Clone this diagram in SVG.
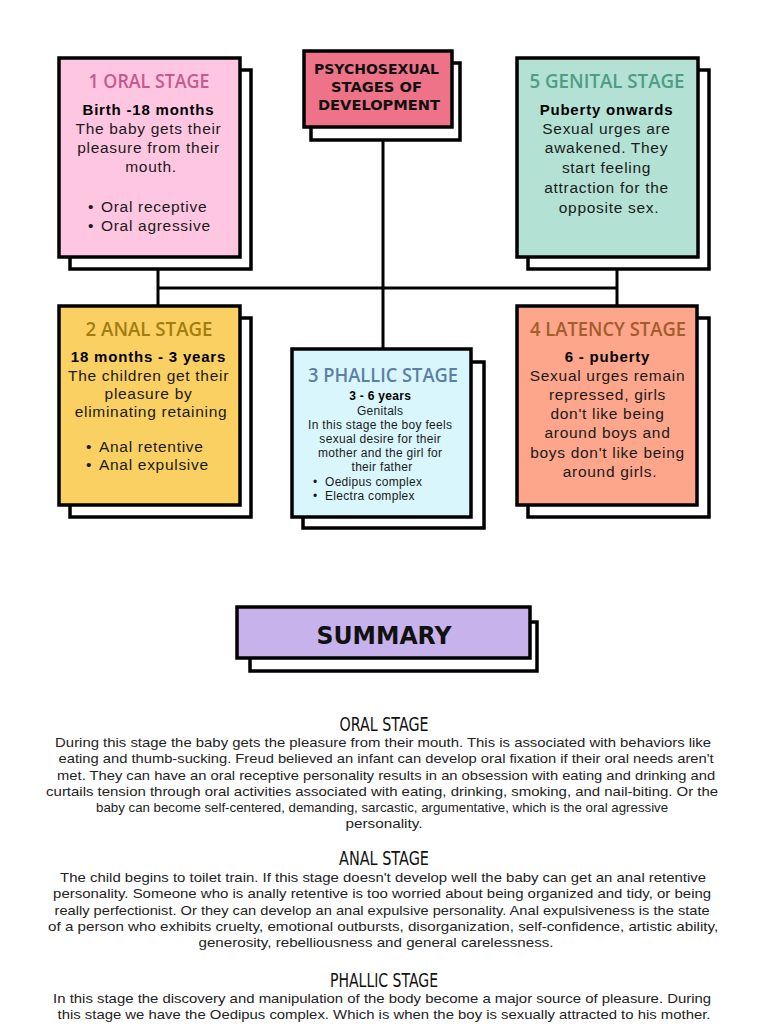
<svg xmlns="http://www.w3.org/2000/svg" width="768" height="1024" viewBox="0 0 768 1024">
<style>
.sh{fill:#fff;stroke:#000;stroke-width:3.5}
.fr{stroke:#000;stroke-width:3.5}
.ttl{font-family:"Open Sans","DejaVu Sans",sans-serif;font-weight:600;text-anchor:middle;font-size:20px}
.b{font-family:"Liberation Sans",Arial,sans-serif;font-size:15.5px;letter-spacing:0.7px;fill:#1a1a1a;text-anchor:middle}
.bb{font-weight:bold;font-size:15px;letter-spacing:0.8px;fill:#000}
.s{font-family:"Liberation Sans",Arial,sans-serif;font-size:12px;letter-spacing:0.3px;fill:#1a1a1a;text-anchor:middle}
.hd{font-family:"DejaVu Sans","Liberation Sans",sans-serif;font-size:20px;fill:#111;text-anchor:middle}
.p{font-family:"Liberation Sans",Arial,sans-serif;font-size:13.5px;fill:#222;text-anchor:middle}
.bl{text-anchor:start}
.ln{stroke:#000;stroke-width:3;fill:none}
</style>
<rect width="768" height="1024" fill="#fff"/>
<g id="connectors">
<line class="ln" x1="383" y1="127" x2="383" y2="350"/>
<line class="ln" x1="158" y1="288" x2="617" y2="288"/>
<line class="ln" x1="158" y1="269" x2="158" y2="307"/>
<line class="ln" x1="617" y1="269" x2="617" y2="307"/>
</g>
<g id="title">
<rect class="sh" x="311" y="63" width="149" height="77"/>
<rect class="fr" x="304" y="51" width="148" height="76" fill="#EE7388"/>
<text font-family="DejaVu Sans,sans-serif" font-size="14.5" text-anchor="middle" fill="#111" font-weight="600">
<tspan x="379" y="74" textLength="125" lengthAdjust="spacingAndGlyphs">PSYCHOSEXUAL</tspan>
<tspan x="379" y="92" textLength="91" lengthAdjust="spacingAndGlyphs">STAGES OF</tspan>
<tspan x="379" y="110" textLength="122" lengthAdjust="spacingAndGlyphs">DEVELOPMENT</tspan>
</text>
</g>
<g id="oral">
<rect class="sh" x="70" y="70" width="181" height="199"/>
<rect class="fr" x="59" y="58" width="181" height="199" fill="#FFC6E1"/>
<text class="ttl" x="149" y="88" fill="#C45A8E" textLength="121" lengthAdjust="spacingAndGlyphs">1 ORAL STAGE</text>
<text class="b"><tspan class="bb" x="151" y="115">Birth -18 months</tspan>
<tspan x="151" y="134">The baby gets their</tspan>
<tspan x="151" y="153">pleasure from their</tspan>
<tspan x="151" y="172">mouth.</tspan></text>
<text class="b bl"><tspan x="88" y="212">•</tspan><tspan x="101" y="212">Oral receptive</tspan>
<tspan x="88" y="231">•</tspan><tspan x="101" y="231">Oral agressive</tspan></text>
</g>
<g id="genital">
<rect class="sh" x="528" y="70" width="181" height="199"/>
<rect class="fr" x="517" y="58" width="181" height="199" fill="#B3E2D4"/>
<text class="ttl" x="607" y="88" fill="#4E9C84" textLength="155" lengthAdjust="spacingAndGlyphs">5 GENITAL STAGE</text>
<text class="b"><tspan class="bb" x="609" y="115">Puberty onwards</tspan>
<tspan x="609" y="134">Sexual urges are</tspan>
<tspan x="609" y="153">awakened. They</tspan>
<tspan x="609" y="173">start feeling</tspan>
<tspan x="609" y="193">attraction for the</tspan>
<tspan x="609" y="213">opposite sex.</tspan></text>
</g>
<g id="anal">
<rect class="sh" x="70" y="318" width="181" height="199"/>
<rect class="fr" x="59" y="306" width="181" height="199" fill="#FBD062"/>
<text class="ttl" x="149" y="336" fill="#A37C12" textLength="127" lengthAdjust="spacingAndGlyphs">2 ANAL STAGE</text>
<text class="b"><tspan class="bb" x="151" y="362">18 months - 3 years</tspan>
<tspan x="151" y="381">The children get their</tspan>
<tspan x="151" y="399">pleasure by</tspan>
<tspan x="151" y="417">eliminating retaining</tspan></text>
<text class="b bl"><tspan x="86" y="452">•</tspan><tspan x="99" y="452">Anal retentive</tspan>
<tspan x="86" y="470">•</tspan><tspan x="99" y="470">Anal expulsive</tspan></text>
</g>
<g id="phallic">
<rect class="sh" x="303" y="362" width="181" height="166"/>
<rect class="fr" x="292" y="349" width="179" height="168" fill="#D9F6FD"/>
<text class="ttl" x="383" y="382" fill="#5B80A6" textLength="150" lengthAdjust="spacingAndGlyphs">3 PHALLIC STAGE</text>
<text class="s"><tspan font-weight="bold" fill="#000" x="382" y="400">3 - 6 years</tspan>
<tspan x="382" y="415">Genitals</tspan>
<tspan x="382" y="429">In this stage the boy feels</tspan>
<tspan x="382" y="443">sexual desire for their</tspan>
<tspan x="382" y="457">mother and the girl for</tspan>
<tspan x="382" y="471">their father</tspan></text>
<text class="s bl"><tspan x="313" y="486">•</tspan><tspan x="325" y="486">Oedipus complex</tspan>
<tspan x="313" y="500">•</tspan><tspan x="325" y="500">Electra complex</tspan></text>
</g>
<g id="latency">
<rect class="sh" x="528" y="318" width="181" height="199"/>
<rect class="fr" x="517" y="306" width="180" height="199" fill="#FDA68B"/>
<text class="ttl" x="608" y="336" fill="#A35C2C" textLength="156" lengthAdjust="spacingAndGlyphs">4 LATENCY STAGE</text>
<text class="b"><tspan class="bb" x="610" y="362">6 - puberty</tspan>
<tspan x="610" y="381">Sexual urges remain</tspan>
<tspan x="610" y="400">repressed, girls</tspan>
<tspan x="610" y="419">don't like being</tspan>
<tspan x="610" y="438">around boys and</tspan>
<tspan x="610" y="458">boys don't like being</tspan>
<tspan x="610" y="477">around girls.</tspan></text>
</g>
<g id="summary">
<rect class="sh" x="250" y="622" width="287" height="49"/>
<rect class="fr" x="237" y="607" width="293" height="51" fill="#C8B2EC"/>
<text x="384" y="644" font-family="DejaVu Sans,sans-serif" font-weight="bold" font-size="25" text-anchor="middle" fill="#111" textLength="135" lengthAdjust="spacingAndGlyphs">SUMMARY</text>
</g>
<g id="summary-text">
<text class="hd" x="384" y="731" textLength="89" lengthAdjust="spacingAndGlyphs">ORAL STAGE</text>
<text class="p">
<tspan x="385" y="747" textLength="656" lengthAdjust="spacingAndGlyphs">During this stage the baby gets the pleasure from their mouth. This is associated with behaviors like</tspan>
<tspan x="388" y="763" textLength="655" lengthAdjust="spacingAndGlyphs">eating and thumb-sucking. Freud believed an infant can develop oral fixation if their oral needs aren't</tspan>
<tspan x="388" y="780" textLength="658" lengthAdjust="spacingAndGlyphs">met. They can have an oral receptive personality results in an obsession with eating and drinking and</tspan>
<tspan x="384" y="796" textLength="672" lengthAdjust="spacingAndGlyphs">curtails tension through oral activities associated with eating, drinking, smoking, and nail-biting.  Or the</tspan>
<tspan x="384" y="812" textLength="572" lengthAdjust="spacingAndGlyphs">baby can become self-centered, demanding, sarcastic, argumentative, which is the oral agressive</tspan>
<tspan x="384" y="828" textLength="77" lengthAdjust="spacingAndGlyphs">personality.</tspan>
</text>
<text class="hd" x="384" y="865" textLength="90" lengthAdjust="spacingAndGlyphs">ANAL STAGE</text>
<text class="p">
<tspan x="385" y="882" textLength="646" lengthAdjust="spacingAndGlyphs">The child begins to toilet train. If this stage doesn't develop well the baby can get an anal retentive</tspan>
<tspan x="384" y="898" textLength="658" lengthAdjust="spacingAndGlyphs">personality.  Someone who is anally retentive is too worried about being organized and tidy, or being</tspan>
<tspan x="384" y="915" textLength="655" lengthAdjust="spacingAndGlyphs">really perfectionist. Or they can develop an anal expulsive personality. Anal expulsiveness is the state</tspan>
<tspan x="385" y="931" textLength="670" lengthAdjust="spacingAndGlyphs">of a person who exhibits cruelty, emotional outbursts, disorganization, self-confidence, artistic ability,</tspan>
<tspan x="376" y="947" textLength="355" lengthAdjust="spacingAndGlyphs">generosity, rebelliousness and general carelessness.</tspan>
</text>
<text class="hd" x="384" y="987" textLength="108" lengthAdjust="spacingAndGlyphs">PHALLIC STAGE</text>
<text class="p">
<tspan x="384" y="1003" textLength="658" lengthAdjust="spacingAndGlyphs">In this stage the discovery and manipulation of the body become a major source of pleasure. During</tspan>
<tspan x="384" y="1019" textLength="653" lengthAdjust="spacingAndGlyphs">this stage we have the Oedipus complex. Which is when the boy is sexually attracted to his mother.</tspan>
</text>
</g>
</svg>
